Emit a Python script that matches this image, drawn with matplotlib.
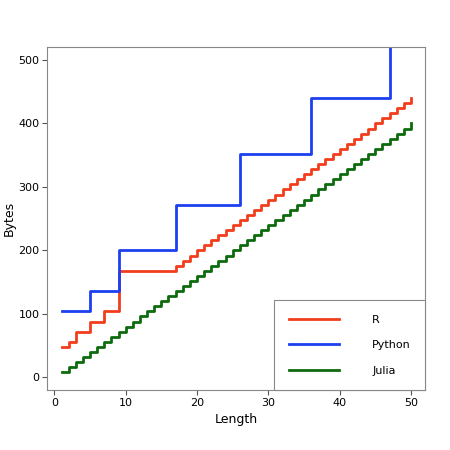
import numpy as np
import matplotlib.pyplot as plt

length = np.arange(1, 51)
r_bytes = [48, 56, 72, 72, 88, 88, 104, 104] + [168] * 8 + [168 + 8 * k for k in range(1, 35)]
py_bytes = [104] * 4 + [136] * 4 + [200] * 8 + [272] * 9 + [352] * 10 + [440] * 11 + [536] * 4
julia_bytes = [8 * n for n in length]

fig = plt.figure(figsize=(4.5, 4.5), dpi=100)
ax = fig.add_axes([0.105, 0.133, 0.84, 0.762])

ax.step(length, r_bytes, where='post', color='#f23d1c', lw=2, label='R')
ax.step(length, py_bytes, where='post', color='#1c3ff0', lw=2, label='Python')
ax.step(length, julia_bytes, where='post', color='#0d6b0d', lw=2, label='Julia')

ax.set_xlim(-1, 52)
ax.set_ylim(-20, 520)
ax.set_xticks([0, 10, 20, 30, 40, 50])
ax.set_yticks([0, 100, 200, 300, 400, 500])
ax.set_xlabel('Length', fontsize=9)
ax.set_ylabel('Bytes', fontsize=9, labelpad=2)
ax.tick_params(labelsize=8, direction='out', color='#555555', pad=2)
for s in ax.spines.values():
    s.set_color('#888888')

leg = ax.legend(loc='lower right', borderaxespad=0, fancybox=False, edgecolor='#888888',
                framealpha=1, fontsize=8, handlelength=4.5, labelspacing=1.4,
                borderpad=1.3, handletextpad=3.0)
leg.get_frame().set_linewidth(0.8)
for t in leg.get_texts():
    t.set_ha('left')
leg._legend_box.align = 'left'

fig.savefig('out.png', dpi=100)
